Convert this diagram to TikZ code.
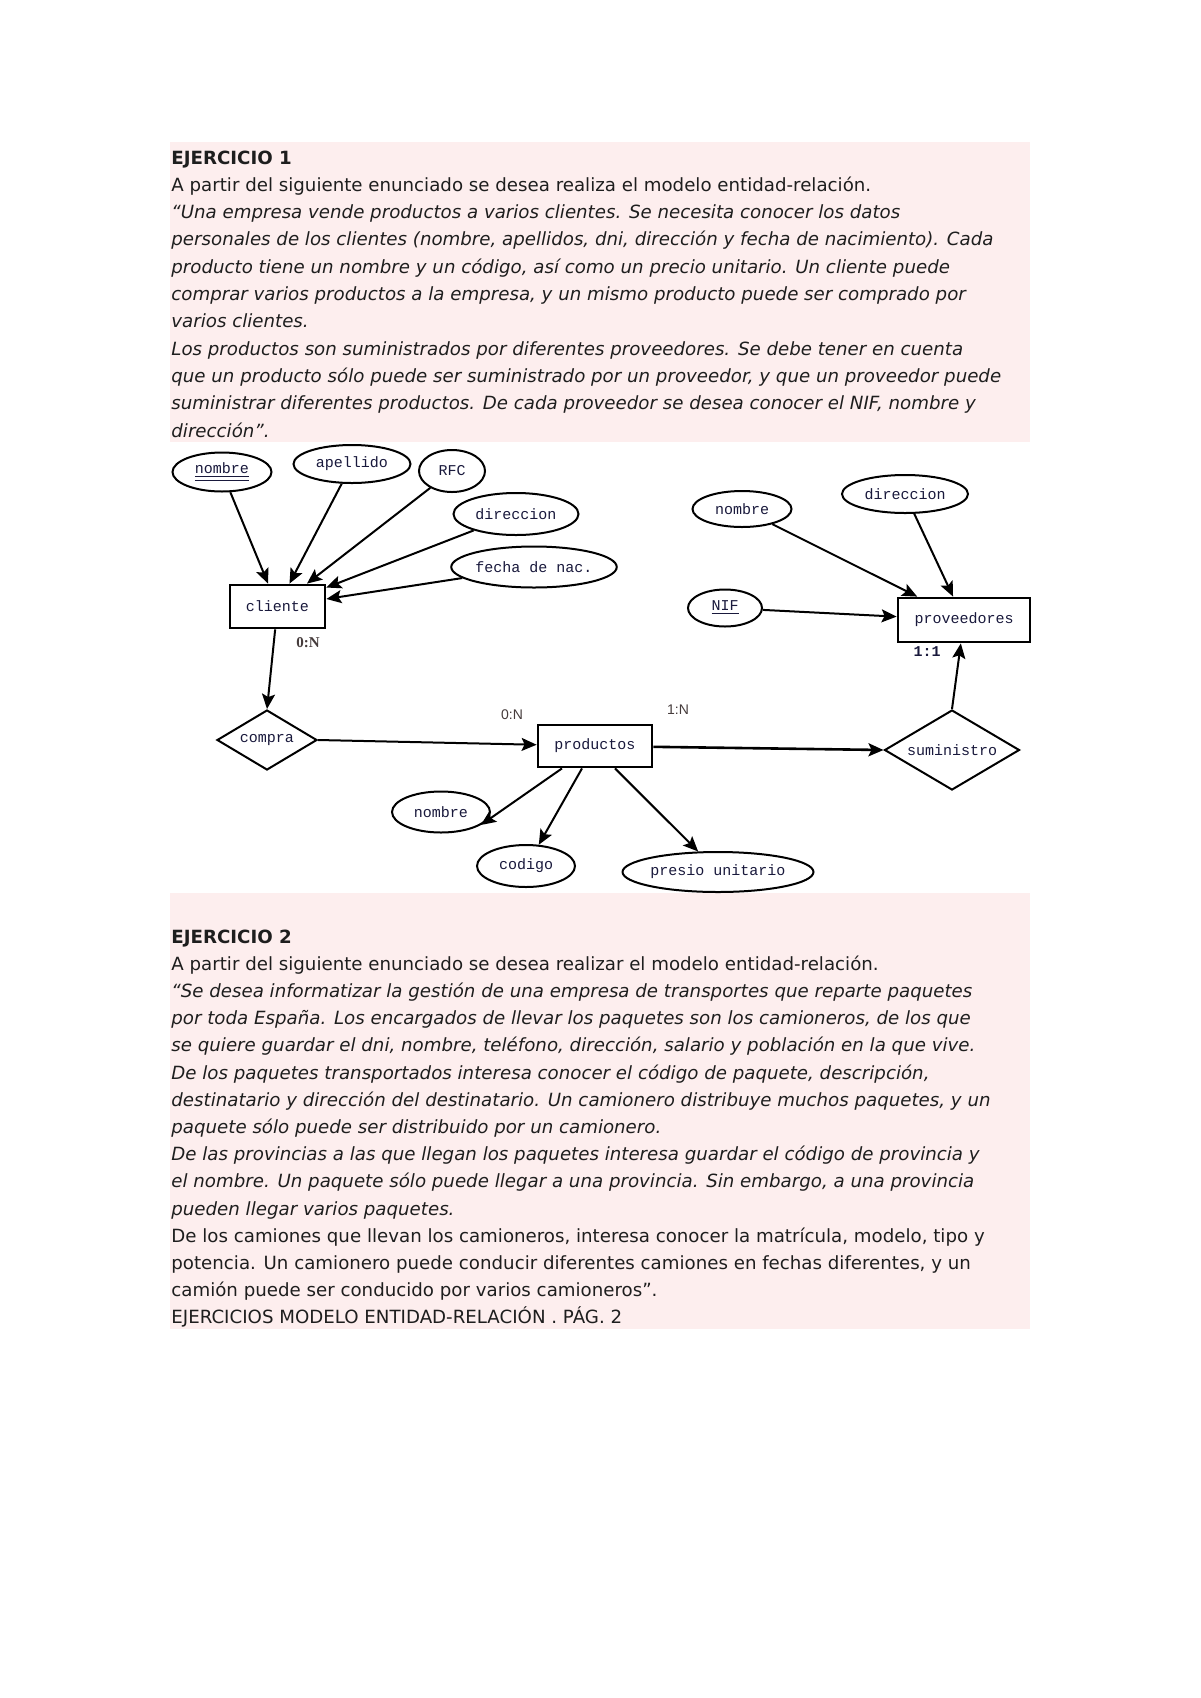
\documentclass[tikz,border=0pt]{standalone}
\usepackage{fontspec}
\setmainfont{DejaVu Sans}
\newfontfamily\diagfont{Liberation Mono}
\newfontfamily\cardserif{Liberation Serif}
\newfontfamily\cardsans{Liberation Sans}
\usetikzlibrary{shapes.geometric,arrows.meta}
\definecolor{pinkbg}{RGB}{253,238,238}
\definecolor{txt}{RGB}{30,30,30}
\definecolor{dtxt}{RGB}{25,25,60}
\definecolor{ctxt}{RGB}{70,60,60}
\begin{document}
\begin{tikzpicture}[x=0.5pt,y=-0.5pt,
  attr/.style={ellipse,draw,line width=1pt,inner sep=0pt,text=dtxt,font=\diagfont\fontsize{7.5}{9}\selectfont},
  ent/.style={rectangle,draw,line width=1.4pt,inner sep=0pt,text=dtxt,font=\diagfont\fontsize{7.5}{9}\selectfont},
  rel/.style={diamond,draw,line width=1pt,inner sep=0pt,text=dtxt,font=\diagfont\fontsize{7.5}{9}\selectfont},
  arr/.style={-{Stealth[length=7.5pt,width=6.5pt,inset=1.5pt]},line width=1pt},
  bodytext/.style={anchor=base west,inner sep=0pt,font=\fontsize{9.1}{11}\selectfont,text=txt},
  cardlabel/.style={inner sep=0pt,text=ctxt}
]
\useasboundingbox (0,0) rectangle (1200,1698);
\fill[white] (0,0) rectangle (1200,1698);
\fill[pinkbg] (170,142) rectangle (1030,442);
\fill[pinkbg] (170,893) rectangle (1030,1329);

% ---- Ejercicio 1 text
\foreach \t [count=\i] in {
 {\bfseries EJERCICIO 1},
 {A partir del siguiente enunciado se desea realiza el modelo entidad-relación.},
 {\itshape “Una empresa vende productos a varios clientes. Se necesita conocer los datos},
 {\itshape personales de los clientes (nombre, apellidos, dni, dirección y fecha de nacimiento). Cada},
 {\itshape producto tiene un nombre y un código, así como un precio unitario. Un cliente puede},
 {\itshape comprar varios productos a la empresa, y un mismo producto puede ser comprado por},
 {\itshape varios clientes.},
 {\itshape Los productos son suministrados por diferentes proveedores. Se debe tener en cuenta},
 {\itshape que un producto sólo puede ser suministrado por un proveedor, y que un proveedor puede},
 {\itshape suministrar diferentes productos. De cada proveedor se desea conocer el NIF, nombre y},
 {\itshape dirección”.}}
 \node[bodytext] (ja\i) at (171,{164+(\i-1)*27.3}) {\t};

% ---- Ejercicio 2 text
\foreach \t [count=\i] in {
 {\bfseries EJERCICIO 2},
 {A partir del siguiente enunciado se desea realizar el modelo entidad-relación.},
 {\itshape “Se desea informatizar la gestión de una empresa de transportes que reparte paquetes},
 {\itshape por toda España. Los encargados de llevar los paquetes son los camioneros, de los que},
 {\itshape se quiere guardar el dni, nombre, teléfono, dirección, salario y población en la que vive.},
 {\itshape De los paquetes transportados interesa conocer el código de paquete, descripción,},
 {\itshape destinatario y dirección del destinatario. Un camionero distribuye muchos paquetes, y un},
 {\itshape paquete sólo puede ser distribuido por un camionero.},
 {\itshape De las provincias a las que llegan los paquetes interesa guardar el código de provincia y},
 {\itshape el nombre. Un paquete sólo puede llegar a una provincia. Sin embargo, a una provincia},
 {\itshape pueden llegar varios paquetes.},
 {De los camiones que llevan los camioneros, interesa conocer la matrícula, modelo, tipo y},
 {potencia. Un camionero puede conducir diferentes camiones en fechas diferentes, y un},
 {camión puede ser conducido por varios camioneros”.},
 {EJERCICIOS MODELO ENTIDAD-RELACIÓN . PÁG. 2}}
 \node[bodytext] (jb\i) at (171,{943+(\i-1)*27.2}) {\t};

% ---- Diagram: entities
\node[ent,minimum width=47.5pt,minimum height=21.5pt] (cliente) at (277.5,606.5) {cliente};
\node[ent,minimum width=57pt,minimum height=21pt] (productos) at (595,746) {productos};
\node[ent,minimum width=66pt,minimum height=22pt] (proveedores) at (964,620) {proveedores};

% relationships
\node[rel,aspect=1.67,minimum width=50pt,minimum height=30pt] (compra) at (267,740) {compra};
\node[rel,aspect=1.69,minimum width=67.5pt,minimum height=40pt] (suministro) at (952,750) {suministro};

% attributes of cliente
\node[attr,minimum width=49.5pt,minimum height=19.5pt] (cnombre) at (222,472) {\underline{\underline{nombre}}};
\node[attr,minimum width=58.5pt,minimum height=19pt] (capellido) at (352,464) {apellido};
\node[attr,minimum width=33pt,minimum height=21pt] (crfc) at (452,471) {RFC};
\node[attr,minimum width=62.5pt,minimum height=21pt] (cdir) at (516,514) {direccion};
\node[attr,minimum width=81pt,minimum height=20.5pt] (cfecha) at (534,567) {fecha de nac.};

% attributes of proveedores
\node[attr,minimum width=49.5pt,minimum height=18pt] (pvnombre) at (742,509) {nombre};
\node[attr,minimum width=63pt,minimum height=19pt] (pvdir) at (905,494) {direccion};
\node[attr,minimum width=37pt,minimum height=18.5pt] (pvnif) at (725,608) {\underline{NIF}};

% attributes of productos
\node[attr,minimum width=49pt,minimum height=20.5pt] (prnombre) at (441,812) {nombre};
\node[attr,minimum width=49pt,minimum height=21pt] (prcodigo) at (526,866) {codigo};
\node[attr,minimum width=88.5pt,minimum height=20pt] (prprecio) at (718,872) {presio unitario};

% cardinalities
\node[cardlabel,font=\cardserif\bfseries\fontsize{7.5}{9}\selectfont] (card1) at (308,643) {0:N};
\node[cardlabel,font=\cardsans\fontsize{7}{9}\selectfont] (card2) at (512,715) {0:N};
\node[cardlabel,font=\cardsans\fontsize{7}{9}\selectfont] (card3) at (678,710) {1:N};
\node[cardlabel,text=dtxt,font=\diagfont\bfseries\fontsize{7.5}{9}\selectfont] (card4) at (927,652) {1:1};

% connectors
\draw[arr] (cnombre) -- (cliente);
\draw[arr] (capellido) -- (cliente);
\draw[arr] (crfc) -- (cliente);
\draw[arr] (cdir) -- (cliente);
\draw[arr] (cfecha) -- (cliente);

\draw[arr] (pvnombre) -- (proveedores);
\draw[arr] (pvdir) -- (proveedores);
\draw[arr] (pvnif) -- (proveedores);

\draw[arr] (cliente) -- (compra.north);
\draw[arr] (compra.east) -- (productos);
\draw[arr,line width=1.3pt] (productos) -- (suministro.west);
\draw[arr] (suministro.north) -- (proveedores);

\draw[arr] ([xshift=-16.5pt]productos.south) -- (prnombre.-18);
\draw[arr] ([xshift=-6.5pt]productos.south) -- (prcodigo.59);
\draw[arr] ([xshift=10pt]productos.south) -- (prprecio.134);
\end{tikzpicture}
\end{document}
